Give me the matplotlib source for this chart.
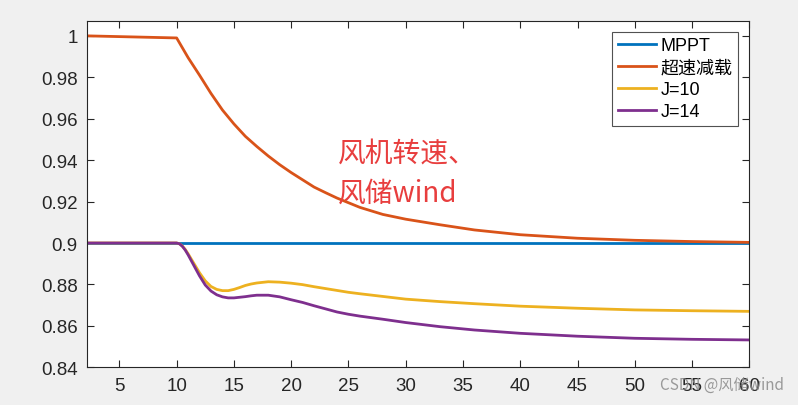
import numpy as np
import matplotlib.pyplot as plt

plt.rcParams['font.family'] = ['Liberation Sans', 'Noto Sans CJK SC', 'DejaVu Sans']

# time axis values
t_mppt = [2.2, 60]
mppt = [0.9, 0.9]

t_ov = [2.2, 10, 11, 12, 13, 14, 15, 16, 17, 18, 19, 20, 21, 22, 23, 24,
        26, 28, 30, 33, 36, 40, 45, 50, 55, 60]
overspeed = [1.0, 0.999, 0.9895, 0.981, 0.9722, 0.9642, 0.9575, 0.9515,
             0.9466, 0.942, 0.9378, 0.934, 0.9305, 0.927, 0.9243, 0.9217,
             0.9172, 0.9138, 0.9115, 0.9088, 0.9063, 0.904, 0.9023, 0.9013,
             0.9007, 0.9003]

t_j = [2.2, 10, 10.25, 10.5, 10.75, 11, 11.5, 12, 12.5, 13, 13.5, 14, 14.5,
       15, 15.5, 16, 16.5, 17, 18, 19, 20, 21, 22, 23, 24, 25, 26, 28, 30,
       33, 36, 40, 45, 50, 55, 60]
j10 = [0.9, 0.9, 0.8996, 0.8985, 0.8969, 0.8948, 0.8902, 0.8856, 0.8817,
       0.879, 0.8776, 0.877, 0.877, 0.8776, 0.8785, 0.8795, 0.8802, 0.8807,
       0.8813, 0.8811, 0.8806, 0.8799, 0.8789, 0.878, 0.8771, 0.8762,
       0.8755, 0.8742, 0.8729, 0.8717, 0.8707, 0.8695, 0.8685, 0.8677,
       0.8673, 0.867]
j14 = [0.9, 0.9, 0.8996, 0.8984, 0.8966, 0.8943, 0.8892, 0.8841, 0.8797,
       0.8768, 0.875, 0.874, 0.8735, 0.8735, 0.8738, 0.8741, 0.8745, 0.8748,
       0.8748, 0.874, 0.8726, 0.8713, 0.8697, 0.8682, 0.8667, 0.8656,
       0.8647, 0.8632, 0.8616, 0.8596, 0.858, 0.8564, 0.855, 0.854, 0.8535,
       0.8532]

labels = ['MPPT', '超速减载', 'J=10', 'J=14']
colors = ['#0072BD', '#D95319', '#EDB120', '#7E2F8E']

xticks = list(range(5, 61, 5))
yticks = [0.84, 0.86, 0.88, 0.9, 0.92, 0.94, 0.96, 0.98, 1.0]
ytick_labels = ['0.84', '0.86', '0.88', '0.9', '0.92', '0.94', '0.96', '0.98', '1']

fig = plt.figure(figsize=(7.98, 4.06), dpi=100, facecolor='#f0f0f0')
ax = fig.add_axes([0.1094, 0.0929, 0.8296, 0.852])

ax.plot(t_mppt, mppt, color=colors[0], lw=2.0, label=labels[0])
ax.plot(t_ov, overspeed, color=colors[1], lw=2.0, label=labels[1])
ax.plot(t_j, j10, color=colors[2], lw=2.0, label=labels[2])
ax.plot(t_j, j14, color=colors[3], lw=2.0, label=labels[3])

ax.set_xlim(2.2, 60)
ax.set_ylim(0.84, 1.007)
ax.set_xticks(xticks)
ax.set_yticks(yticks)
ax.set_yticklabels(ytick_labels)
ax.tick_params(direction='in', top=True, right=True, length=5, width=0.8,
               labelsize=13.5, colors='#262626', pad=7)
for s in ax.spines.values():
    s.set_color('#262626')
    s.set_linewidth(0.8)

leg = ax.legend(loc='upper right', bbox_to_anchor=(0.9825, 0.97),
                fontsize=13, frameon=True, fancybox=False,
                edgecolor='#262626', handlelength=2.1, handletextpad=0.25,
                borderpad=0.3, labelspacing=0.28, borderaxespad=0)
leg.get_frame().set_linewidth(0.8)

fig.text(338 / 798, 1 - 174 / 406, '风机转速、\n风储wind', color='#e83e3e',
         fontsize=20, family=['Noto Sans CJK SC', 'DejaVu Sans'],
         va='center', ha='left', linespacing=1.45)

fig.text(660 / 798, 1 - 385 / 406, 'CSDN @风储wind', color='#8a8a8a',
         alpha=0.85, fontsize=11, family=['Noto Sans CJK SC', 'DejaVu Sans'],
         va='center', ha='left')

fig.savefig('out.png', dpi=100, facecolor=fig.get_facecolor())
